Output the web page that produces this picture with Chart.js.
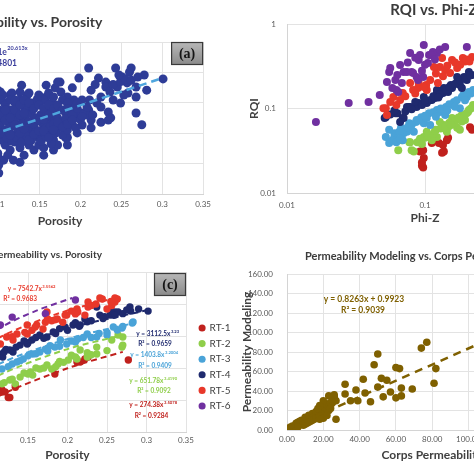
<!DOCTYPE html>
<html>
<head>
<meta charset="utf-8">
<script src="https://cdn.jsdelivr.net/npm/chart.js@4.4.1/dist/chart.umd.min.js"></script>
<style>
html, body { margin: 0; padding: 0; background: #fff; overflow: hidden; width: 474px; height: 474px; }
canvas { position: absolute; }
</style>
</head>
<body>
<canvas id="chartA" width="383" height="237" style="left:-166px;top:0"></canvas>
<canvas id="chartB" width="394" height="237" style="left:237px;top:0"></canvas>
<canvas id="chartC" width="374" height="260" style="left:-140px;top:237px"></canvas>
<canvas id="chartD" width="358" height="237" style="left:237px;top:237px"></canvas>
<script>
// tick values
const porosityTicks = [0, 0.05, 0.1, 0.15, 0.2, 0.25, 0.3, 0.35];
const permTicks = [0.01, 0.1, 1, 10, 100, 1000];
const rqiTicks = [0.01, 0.1, 1];
const phizTicks = [0.01, 0.1, 1];
const modelTicks = [0, 20, 40, 60, 80, 100, 120, 140, 160];
const corpsTicks = [0, 20, 40, 60, 80, 100, 120, 140, 160];

const rtNames = ['RT-1', 'RT-2', 'RT-3', 'RT-4', 'RT-5', 'RT-6'];
const rtColors = ['#c0211d', '#8fce4a', '#4aa3d8', '#1f2a6e', '#e8382a', '#7030a0'];

// (a) permeability vs porosity, all samples  [porosity, k]
const aPoints = [
  [0.210,140],[0.243,140],[0.262,140],[0.260,103],[0.301,61],[0.278,82],[0.281,26],[0.268,15.5],[0.268,4.6],[0.275,1.9],
  [0.249,9.8],[0.234,5.0],[0.237,3.2],[0.225,15.5],[0.222,65],[0.213,26],[0.211,12.4],[0.213,2.7],[0.202,12.4],[0.198,65],
  [0.190,31],[0.192,12.4],[0.184,15.5],[0.175,48],[0.176,22.6],[0.169,31],[0.158,38],[0.158,15.5],[0.149,18],[0.135,18],
  [0.126,22.6],[0.114,18],[0.102,22.6],[0.126,12.4],[0.147,9.8],[0.137,7.3],[0.182,0.70],[0.126,0.11],[0.0965,0.053],[0.251,71],
  [0.231,48],[0.245,33],[0.257,45],[0.268,33],[0.258,21],[0.225,7.3],[0.210,5.8],[0.194,5.8],[0.182,4.6],[0.172,5.8],
  [0.161,5.8],[0.151,4.0],[0.140,4.6],[0.128,3.2],[0.116,4.0],[0.105,2.7],[0.100,5.8],[0.0988,26],[0.105,18],[0.116,21],
  [0.128,38],[0.137,21],[0.161,21],[0.172,48],[0.0988,3.2],[0.0988,0.70],[0.0988,0.22],[0.100,0.049],[0.184,0.72],[0.213,1.5],
  [0.225,2.3],[0.234,2.7],[0.102,1.9],[0.108,1.27],[0.114,1.48],[0.120,0.87],[0.126,1.86],[0.131,0.60],[0.137,1.27],[0.143,1.48],
  [0.149,0.70],[0.155,1.86],[0.161,1.09],[0.167,0.60],[0.172,1.48],[0.178,0.87],[0.184,1.27],[0.108,0.41],[0.114,0.28],[0.120,0.51],
  [0.126,0.33],[0.131,0.19],[0.137,0.41],[0.143,0.28],[0.149,0.41],[0.155,0.33],[0.161,2.72],[0.167,2.72],[0.172,3.16],[0.178,2.33],
  [0.143,3.16],[0.131,2.72],[0.120,3.16],[0.102,0.60],[0.0988,0.19],[0.106,0.13],[0.100,0.09],[0.111,0.19],[0.118,0.13],[0.0965,0.41],
  [0.190,1.86],[0.196,3.16],[0.202,1.86],[0.208,4.0],[0.196,1.02],[0.184,0.41],[0.167,0.28],[0.155,0.19],[0.172,0.41],[0.0988,0.87],
  [0.0965,2.72],[0.155,12.4],[0.165,9.8],[0.178,12.4],[0.188,7.3],[0.196,9.8],[0.202,4.6],[0.167,15.5],[0.184,9.8],[0.147,13],
  [0.140,9.8],[0.131,7.3],[0.120,9.8],[0.108,9.8],[0.114,5.8],[0.231,33],[0.240,40],[0.249,50],[0.255,60],[0.247,82],
  [0.236,22.6],[0.240,12.4],[0.253,18],[0.218,40],[0.262,55],[0.270,70],[0.105,1.0],[0.112,2.2],[0.118,1.8],[0.124,1.2],
  [0.129,2.0],[0.133,1.0],[0.139,2.2],[0.145,1.1],[0.151,2.4],[0.157,0.9],[0.163,1.6],[0.169,1.0],[0.175,2.0],[0.110,0.7],
  [0.116,0.55],[0.122,0.75],[0.128,0.5],[0.134,0.8],[0.140,0.6],[0.146,0.9],[0.152,0.55],[0.158,0.75],[0.164,0.45],[0.104,3.5],
  [0.110,4.5],[0.122,5.0],[0.134,4.2],[0.146,3.0],[0.158,3.6],[0.170,4.0],[0.182,3.0],[0.188,2.4],[0.194,1.5],[0.200,2.8],
  [0.0965,8.5],[0.0965,5.8],[0.0965,1.27],[0.0965,0.6],[0.102,12.4],[0.102,4.0],[0.102,1.0],[0.108,8.5],[0.108,2.72],[0.108,5.8],
  [0.114,12.4],[0.114,3.2],[0.114,0.87],[0.120,5.8],[0.120,1.86],[0.120,12.4],[0.126,8.5],[0.126,4.0],[0.126,1.0],[0.131,12.4],
  [0.131,4.5],[0.131,1.4],[0.137,10],[0.137,2.4],[0.137,0.6],[0.143,6.5],[0.143,2.0],[0.143,0.9],[0.149,8.5],[0.149,2.72],
  [0.149,1.2],[0.155,6.5],[0.155,2.8],[0.155,1.2],[0.161,8.5],[0.161,4.0],[0.161,0.7],[0.167,6.5],[0.167,2.0],[0.167,1.3],
  [0.172,8.5],[0.172,2.3],[0.178,5.8],[0.178,1.6],[0.184,6.5],[0.184,2.0],[0.190,4.0],[0.190,2.7],[0.196,6.5],[0.202,3.5],
  [0.208,7.3],[0.215,4.0],[0.220,9.8]
];
const aTrend = [[0.03, 0.25], [0.30, 65]];

// (b) RQI vs Phi-Z  [phiZ, rqi]
const bRT1 = [[0.095,0.021],[0.098,0.026],[0.092,0.031],[0.112,0.039],[0.126,0.039],[0.137,0.031],[0.144,0.042],[0.212,0.060],
  [0.097,0.020],[0.097,0.032],[0.135,0.037],[0.133,0.030],[0.147,0.045],[0.219,0.056],[0.095,0.023]];
const bRT2 = [[0.080,0.032],[0.077,0.040],[0.098,0.046],[0.103,0.053],[0.120,0.056],[0.137,0.064],[0.162,0.073],[0.185,0.084],
  [0.208,0.096],[0.122,0.046],[0.144,0.053],[0.171,0.059],[0.100,0.045],[0.112,0.042],[0.147,0.060],[0.179,0.056],[0.205,0.091],
  [0.223,0.110],[0.078,0.040],[0.083,0.031],[0.068,0.042],[0.064,0.032],[0.128,0.069],[0.157,0.077],[0.195,0.073],
  [0.088,0.040],[0.092,0.044],[0.105,0.048],[0.115,0.050],[0.130,0.058],[0.140,0.061],[0.150,0.068],[0.165,0.070],[0.175,0.078],
  [0.190,0.080],[0.200,0.088],[0.215,0.100],[0.095,0.038],[0.118,0.054],[0.155,0.064],[0.185,0.070]];
const bRT3 = [[0.055,0.039],[0.060,0.051],[0.067,0.059],[0.077,0.067],[0.086,0.069],[0.094,0.079],[0.107,0.088],[0.122,0.096],
  [0.142,0.104],[0.162,0.119],[0.185,0.137],[0.208,0.157],[0.098,0.067],[0.083,0.053],[0.060,0.046],[0.070,0.051],[0.065,0.053],
  [0.074,0.053],[0.087,0.073],[0.103,0.077],[0.128,0.091],[0.160,0.110],[0.201,0.137],[0.223,0.166],[0.109,0.064],[0.055,0.056],
  [0.069,0.042],[0.140,0.084],[0.179,0.101],[0.075,0.060],[0.080,0.064],[0.090,0.072],[0.100,0.082],[0.115,0.090],[0.130,0.100],
  [0.150,0.112],[0.170,0.125],[0.190,0.145],[0.215,0.150],[0.120,0.080],[0.145,0.095],[0.165,0.105],[0.195,0.125],[0.058,0.042],
  [0.062,0.040],[0.066,0.044],[0.052,0.046]];
const bRT4 = [[0.052,0.079],[0.063,0.088],[0.070,0.077],[0.077,0.104],[0.090,0.116],[0.098,0.137],[0.112,0.126],[0.122,0.153],
  [0.137,0.175],[0.154,0.190],[0.171,0.206],[0.192,0.236],[0.208,0.270],[0.074,0.104],[0.087,0.104],[0.103,0.116],[0.118,0.133],
  [0.135,0.153],[0.157,0.175],[0.179,0.190],[0.201,0.217],[0.219,0.249],[0.122,0.166],[0.171,0.236],[0.069,0.077],[0.051,0.077],
  [0.061,0.088],[0.066,0.069],[0.078,0.104],[0.085,0.119],[0.147,0.157],[0.185,0.175],[0.056,0.085],[0.060,0.095],[0.072,0.092],
  [0.080,0.098],[0.095,0.110],[0.108,0.125],[0.115,0.140],[0.128,0.145],[0.142,0.165],[0.150,0.180],[0.165,0.195],[0.180,0.215],
  [0.195,0.228],[0.212,0.245],[0.125,0.135],[0.100,0.125]];
const bRT5 = [[0.157,0.375],[0.188,0.396],[0.219,0.407],[0.128,0.310],[0.140,0.286],[0.171,0.302],[0.109,0.217],[0.124,0.200],
  [0.152,0.263],[0.078,0.200],[0.082,0.166],[0.069,0.153],[0.059,0.137],[0.066,0.126],[0.089,0.175],[0.103,0.166],[0.133,0.396],
  [0.116,0.310],[0.102,0.190],[0.052,0.101],[0.053,0.084],[0.050,0.101],[0.056,0.119],[0.090,0.200],[0.195,0.360],
  [0.120,0.260],[0.145,0.320],[0.165,0.350],[0.180,0.330],[0.200,0.380],[0.210,0.360],[0.098,0.180],[0.085,0.150],[0.072,0.140],
  [0.062,0.110],[0.135,0.240]];
const bRT6 = [[0.0162,0.069],[0.028,0.116],[0.039,0.119],[0.047,0.144],[0.053,0.206],[0.056,0.302],[0.062,0.166],[0.066,0.327],
  [0.070,0.270],[0.078,0.454],[0.090,0.375],[0.098,0.564],[0.107,0.430],[0.122,0.454],[0.140,0.534],[0.201,0.534],[0.087,0.236],
  [0.061,0.217],[0.055,0.270],[0.092,0.430],[0.114,0.466],[0.105,0.345],[0.074,0.270],[0.063,0.249],[0.082,0.263],[0.097,0.236],
  [0.058,0.175],[0.068,0.200],[0.089,0.217],[0.064,0.157],[0.110,0.430],[0.080,0.270],[0.085,0.400],[0.100,0.330],[0.118,0.380],
  [0.095,0.280],[0.075,0.350],[0.128,0.500]];

// (c) permeability vs porosity by rock type  [porosity, k]
const cRT1 = [[0.277,1.78],[0.222,1.91],[0.216,1.54],[0.184,0.65],[0.134,0.25],[0.125,0.12],[0.117,0.21],[0.121,0.18],
  [0.127,0.12],[0.118,0.18],[0.134,0.29],[0.212,1.54],[0.226,2.21]];
const cRT2 = [[0.269,4.5],[0.264,10.7],[0.237,4.5],[0.237,2.74],[0.225,2.21],[0.216,3.65],[0.212,1.91],[0.201,1.78],[0.188,1.33],
  [0.174,1.24],[0.165,0.93],[0.153,0.75],[0.140,0.52],[0.127,0.42],[0.117,0.32],[0.180,0.93],[0.156,0.60],[0.134,0.32],
  [0.270,9.3],[0.270,5.2],[0.256,7.5],[0.190,1.6],[0.205,2.5],[0.160,1.0],[0.145,0.7],[0.225,3.0],[0.120,0.35],[0.130,0.45],
  [0.150,0.65],[0.170,1.0],[0.185,1.1],[0.195,1.5],[0.210,2.2],[0.230,2.6],[0.250,3.5]];
const cRT3 = [[0.283,27.4],[0.263,15.4],[0.250,10.7],[0.237,9.3],[0.225,11.5],[0.213,8.1],[0.199,5.6],[0.184,4.5],[0.172,3.9],
  [0.156,2.74],[0.144,1.91],[0.130,1.33],[0.117,0.93],[0.191,7.5],[0.165,3.16],[0.136,1.54],[0.282,25.5],[0.269,17.8],
  [0.258,19.1],[0.205,7.0],[0.178,5.0],[0.150,2.4],[0.240,12],[0.220,9],[0.125,1.1],[0.140,1.7],[0.160,2.8],[0.175,3.4],
  [0.190,4.8],[0.210,6.5],[0.230,9],[0.250,13],[0.270,20]];
const cRT4 = [[0.302,60],[0.279,81],[0.260,56],[0.254,45],[0.241,45],[0.237,81],[0.222,34],[0.207,22],[0.197,19],[0.182,13.3],
  [0.165,10.7],[0.155,7.5],[0.140,5.2],[0.127,3.65],[0.117,2.74],[0.216,22],[0.174,9.3],[0.149,5.6],[0.131,3.16],[0.118,2.2],
  [0.264,56],[0.258,45],[0.270,50],[0.255,62],[0.247,40],[0.230,30],[0.190,17],[0.160,9],[0.145,7],[0.122,3.8],[0.210,26],[0.280,60],
  [0.120,3.2],[0.135,4.5],[0.150,6.2],[0.170,8.5],[0.185,12],[0.200,15],[0.215,20],[0.225,28],[0.245,35],[0.260,45],[0.275,65],[0.290,70]];
const cRT5 = [[0.263,143],[0.260,115],[0.244,143],[0.226,81],[0.212,70],[0.210,49],[0.197,45],[0.187,34],[0.175,34],[0.161,22],
  [0.149,22],[0.136,11.5],[0.123,9.3],[0.115,5.6],[0.174,56],[0.250,70],[0.222,45],[0.194,27],[0.169,16.5],[0.149,11.5],
  [0.131,7.5],[0.241,154],[0.260,154],[0.226,115],[0.213,56],[0.199,45],[0.184,32],[0.172,27],[0.159,19],[0.146,13],
  [0.256,90],[0.236,100],[0.130,9.5],[0.155,15],[0.180,30],[0.205,60],[0.230,90],[0.255,120]];
const cRT6 = [[0.130,39],[0.172,50],[0.210,133],[0.115,22]];
const cFit1 = [[0.07,0.025],[0.115,0.14],[0.2,0.98],[0.27,3.2]];
const cFit2 = [[0.07,0.12],[0.115,0.62],[0.2,3.9],[0.265,10]];
const cFit3 = [[0.07,0.28],[0.115,1.4],[0.2,8.1],[0.28,24]];
const cFit4 = [[0.07,0.58],[0.115,2.9],[0.2,17],[0.302,65]];
const cFit5 = [[0.07,1.7],[0.115,9.3],[0.19,52],[0.263,160]];
const cFit6 = [[0.06,1.7],[0.115,18],[0.16,61],[0.206,154]];

// (d) modelled vs core permeability  [core, model]
const dPoints = [
  [74,84],[77,90],[50,78],[48,67],[60,64],[62,63],[82,63],[81,48],[32,47],[42,52],[52,53],[55,51],[50,44],[38,41],[43,38],
  [39,30],[35,30],[46,29],[53,34],[57,39],[63,43],[69,42],[60,33],[63,35],[32,37],[26,34],[27,11],[25,28],[22,24],
  [0.5,0.5],[1,1],[1.5,0.8],[2,2],[2,1],[3,2.5],[3,4],[4,4],[4,2],[5,5],[5,7],[6,5],[6,8],[7,7],[7,9],[8,6],[8,10],[9,9],[9,5],
  [10,9],[10,13],[11,10],[11,7],[12,11],[12,15],[13,12],[13,9],[14,13],[14,17],[15,14],[15,11],[16,15],[16,19],[17,16],[17,13],
  [18,17],[18,21],[19,18],[19,15],[20,20],[20,24],[20,16],[21,19],[21,23],[22,22],[22,26],[23,20],[23,27],[24,25],[24,28],[24,22],
  [25,30],[26,33],[27,30],[1,2],[2,3],[3,1.5],[0.3,1.2],[0.8,0.2],[6,3],[10,6],[12,8],[14,10],[16,12],[18,14],[20,30],[23,35],
  [26,36],[18,25],[17,22],[20,12],[22,15],[18,11]
];
const dTrend = [[0, 1.0], [120, 100.2]];

Chart.defaults.font.family = 'Lato, "Open Sans", sans-serif';
Chart.defaults.color = '#595959';
Chart.defaults.animation = false;
Chart.defaults.events = [];

const GRID = '#e3e3e3';
const TITLE_COLOR = '#3b3b3b';

const xy = arr => arr.map(([x, y]) => ({ x, y }));

function fixedTicks(list) {
  return s => {
    s.ticks = list.filter(v => v >= s.min - 1e-9 && v <= s.max + 1e-9).map(v => ({ value: v }));
  };
}

function mkAxis(o) {
  return {
    type: o.type, min: o.min, max: o.max, position: o.position,
    afterBuildTicks: fixedTicks(o.ticks),
    afterFit: s => { if (o.position === 'bottom') s.height = o.size; else s.width = o.size; },
    grid: { color: GRID, drawTicks: false },
    border: { color: '#d4d4d4' },
    ticks: { font: { size: 8 }, padding: o.pad, autoSkip: false, maxRotation: 0, color: '#595959', callback: o.fmt },
    title: { display: true, text: o.title, color: '#404040', font: { size: 12, weight: 'bold' }, padding: o.tpad }
  };
}

// empty spacer axis, used to push a chart's title centre sideways
function spacer(w) {
  return {
    type: 'linear', position: 'right', display: true,
    grid: { display: false, drawTicks: false }, border: { display: false }, ticks: { display: false },
    afterFit: s => { s.width = w; }
  };
}

// draws trend equations and the panel tag box
const annotate = {
  id: 'annotate',
  afterDatasetsDraw(chart, args, opts) {
    const { ctx, chartArea } = chart;
    ctx.save();
    ctx.textBaseline = 'middle';
    ctx.textAlign = 'left';
    (opts.items || []).forEach(it => {
      const base = `bold ${it.size}px Lato, sans-serif`;
      const sup = `bold ${(it.size * 0.65).toFixed(1)}px Lato, sans-serif`;
      ctx.font = base;
      const wb = ctx.measureText(it.text).width;
      let ws = 0;
      if (it.sup) { ctx.font = sup; ws = ctx.measureText(it.sup).width; }
      let x0 = chartArea.left + it.x;
      if (it.align === 'right') x0 -= wb + ws; else x0 -= (wb + ws) / 2;
      const y = chartArea.top + it.y;
      ctx.fillStyle = it.color;
      ctx.font = base;
      ctx.fillText(it.text, x0, y);
      if (it.sup) { ctx.font = sup; ctx.fillText(it.sup, x0 + wb + 0.5, y - it.size * 0.4); }
    });
    if (opts.box) {
      const b = opts.box;
      const bx = chartArea.right - b.w, by = chartArea.top + b.dy;
      const g = ctx.createLinearGradient(0, by, 0, by + b.h);
      g.addColorStop(0, '#b8b8b8');
      g.addColorStop(1, '#8a8a8a');
      ctx.fillStyle = g;
      ctx.fillRect(bx, by, b.w, b.h);
      ctx.strokeStyle = '#3a3a3a';
      ctx.lineWidth = 1.2;
      ctx.strokeRect(bx + 0.5, by + 0.5, b.w - 1, b.h - 1);
      ctx.fillStyle = '#151515';
      ctx.font = 'bold 14px "Liberation Serif", serif';
      ctx.textAlign = 'center';
      ctx.fillText(b.text, bx + b.w / 2, by + b.h / 2 + 1);
    }
    ctx.restore();
  }
};

const fmtPlain = v => String(v);
const fmt2 = v => Number(v).toFixed(2);

// ---------- (a) ----------
new Chart(document.getElementById('chartA'), {
  type: 'scatter',
  data: {
    datasets: [
      { data: xy(aTrend), showLine: true, borderColor: '#4fa6de', borderWidth: 2.5, borderDash: [8, 5], pointRadius: 0, order: 0 },
      { data: xy(aPoints), backgroundColor: '#2e3c97', borderWidth: 0, pointRadius: 4.5, order: 1 }
    ]
  },
  options: {
    responsive: false,
    layout: { padding: 0 },
    plugins: {
      legend: { display: false }, tooltip: { enabled: false },
      title: { display: true, text: 'Permeability vs. Porosity', color: TITLE_COLOR, font: { size: 14, weight: 'bold' }, padding: { top: 13.6, bottom: 11.6 } },
      annotate: {
        items: [
          { text: 'y = 0.1331e', sup: '20.613x', x: 110, y: 10, size: 8.5, color: '#3a3d9c', align: 'right' },
          { text: 'R² = 0.4801', x: 100, y: 21, size: 8.5, color: '#3a3d9c', align: 'right' }
        ],
        box: { text: '(a)', w: 32, h: 23, dy: 0 }
      }
    },
    scales: {
      x: mkAxis({ type: 'linear', min: 0, max: 0.35, position: 'bottom', ticks: porosityTicks, fmt: fmtPlain, size: 43, pad: 6, title: 'Porosity', tpad: { top: 0, bottom: 8.8 } }),
      y: mkAxis({ type: 'logarithmic', min: 0.01, max: 1000, position: 'left', ticks: permTicks, fmt: fmtPlain, size: 83, pad: 8, title: 'Permeability', tpad: { top: 30, bottom: 0 } })
    }
  },
  plugins: [annotate]
});

// ---------- (b) ----------
const bSets = [bRT1, bRT2, bRT3, bRT4, bRT5, bRT6];
new Chart(document.getElementById('chartB'), {
  type: 'scatter',
  data: {
    datasets: bSets.map((d, i) => ({ label: rtNames[i], data: xy(d), backgroundColor: rtColors[i], borderWidth: 0, pointRadius: 4, order: 10 - i }))
  },
  options: {
    responsive: false,
    layout: { padding: 0 },
    plugins: {
      legend: { display: false }, tooltip: { enabled: false },
      title: { display: true, text: 'RQI vs. Phi-Z', color: TITLE_COLOR, font: { size: 15, weight: 'bold' }, padding: { top: 1, bottom: 5 } }
    },
    scales: {
      x: mkAxis({ type: 'logarithmic', min: 0.01, max: 1, position: 'bottom', ticks: phizTicks, fmt: fmtPlain, size: 44, pad: 8, title: 'Phi-Z', tpad: { top: 0, bottom: 11.8 } }),
      y: mkAxis({ type: 'logarithmic', min: 0.01, max: 1, position: 'left', ticks: rqiTicks, fmt: fmtPlain, size: 50, pad: 11, title: 'RQI', tpad: { top: 9.8, bottom: 0 } }),
      y2: spacer(68)
    }
  }
});

// ---------- (c) ----------
const cSets = [cRT1, cRT2, cRT3, cRT4, cRT5, cRT6];
const cFits = [cFit1, cFit2, cFit3, cFit4, cFit5, cFit6];
new Chart(document.getElementById('chartC'), {
  type: 'scatter',
  data: {
    datasets: cSets.map((d, i) => ({ label: rtNames[i], data: xy(d), backgroundColor: rtColors[i], borderWidth: 0, pointRadius: 3.7, order: 10 - i }))
      .concat(cFits.map((d, i) => ({ label: 'fit ' + rtNames[i], data: xy(d), showLine: true, borderColor: rtColors[i], borderWidth: 2, borderDash: [6, 4], pointRadius: 0, tension: 0.3, order: 0 })))
  },
  options: {
    responsive: false,
    layout: { padding: 0 },
    plugins: {
      tooltip: { enabled: false },
      title: { display: true, text: 'Permeability vs. Porosity', color: TITLE_COLOR, font: { size: 10, weight: 'bold' }, padding: { top: 12, bottom: 11 } },
      legend: {
        display: true, position: 'right', maxWidth: 40,
        labels: {
          usePointStyle: true, boxWidth: 5, boxHeight: 5, padding: 5.6, color: '#404040', font: { size: 10 },
          filter: item => item.datasetIndex < 6,
          sort: (a, b) => a.datasetIndex - b.datasetIndex
        }
      },
      annotate: {
        items: [
          { text: 'y = 7542.7x', sup: '3.5562', x: 106, y: 17, size: 6.5, color: rtColors[4], align: 'right' },
          { text: 'R² = 0.9683', x: 88, y: 27, size: 6.5, color: rtColors[4], align: 'right' },
          { text: 'y = 3112.5x', sup: '3.23', x: 208.5, y: 62, size: 6.5, color: rtColors[3] },
          { text: 'R² = 0.9659', x: 206, y: 72, size: 6.5, color: rtColors[3] },
          { text: 'y = 1403.8x', sup: '3.2004', x: 205, y: 83, size: 6.5, color: rtColors[2] },
          { text: 'R² = 0.9409', x: 206, y: 94, size: 6.5, color: rtColors[2] },
          { text: 'y = 651.78x', sup: '3.4190', x: 204, y: 109, size: 6.5, color: rtColors[1] },
          { text: 'R² = 0.9092', x: 205, y: 119, size: 6.5, color: rtColors[1] },
          { text: 'y = 274.38x', sup: '3.5078', x: 204, y: 133, size: 6.5, color: rtColors[0] },
          { text: 'R² = 0.9284', x: 202.5, y: 144, size: 6.5, color: rtColors[0] }
        ],
        box: { text: '(c)', w: 32, h: 23, dy: 1 }
      }
    },
    scales: {
      x: mkAxis({ type: 'linear', min: 0.05, max: 0.35, position: 'bottom', ticks: porosityTicks, fmt: fmtPlain, size: 65, pad: 4, title: 'Porosity', tpad: { top: 0, bottom: 34.8 } }),
      y: mkAxis({ type: 'logarithmic', min: 0.01, max: 1000, position: 'left', ticks: permTicks, fmt: fmtPlain, size: 89, pad: 8, title: 'Permeability', tpad: { top: 20, bottom: 0 } }),
      y2: spacer(8)
    }
  },
  plugins: [annotate]
});

// ---------- (d) ----------
new Chart(document.getElementById('chartD'), {
  type: 'scatter',
  data: {
    datasets: [
      { data: xy(dTrend), showLine: true, borderColor: '#7f6000', borderWidth: 2.5, borderDash: [8, 6], pointRadius: 0, order: 0 },
      { data: xy(dPoints), backgroundColor: '#7f6000', borderWidth: 0, pointRadius: 3.8, order: 1 }
    ]
  },
  options: {
    responsive: false,
    layout: { padding: 0 },
    plugins: {
      legend: { display: false }, tooltip: { enabled: false },
      title: { display: true, text: 'Permeability Modeling vs. Corps Permeability', color: TITLE_COLOR, font: { size: 11, weight: 'bold' }, padding: { top: 12.4, bottom: 11.4 } },
      annotate: {
        items: [
          { text: 'y = 0.8263x + 0.9923', x: 77, y: 25, size: 8.5, color: '#7f6000' },
          { text: 'R² = 0.9039', x: 76, y: 36, size: 8.5, color: '#7f6000' }
        ]
      }
    },
    scales: {
      x: mkAxis({ type: 'linear', min: 0, max: 160, position: 'bottom', ticks: corpsTicks, fmt: fmt2, size: 44, pad: 5, title: 'Corps Permeability', tpad: { top: 0, bottom: 11.8 } }),
      y: mkAxis({ type: 'linear', min: 0, max: 160, position: 'left', ticks: modelTicks, fmt: fmt2, size: 50, pad: 14, title: 'Permeability Modeling', tpad: { top: 2.8, bottom: 0 } })
    }
  },
  plugins: [annotate]
});
</script>
</body>
</html>
